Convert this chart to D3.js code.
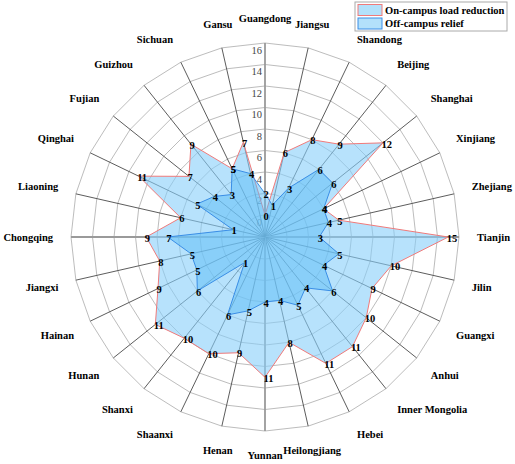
<!DOCTYPE html>
<html>
<head>
<meta charset="utf-8">
<script src="https://cdn.jsdelivr.net/npm/d3@7"></script>
<style>
  body { margin: 0; background: #fff; }
  svg { display: block; }
</style>
</head>
<body>
<svg id="radar" width="515" height="464"></svg>
<script>
///////// Data, clockwise from the top
var provinces = ["Guangdong", "Jiangsu", "Shandong", "Beijing", "Shanghai", "Xinjiang", "Zhejiang",
                 "Tianjin", "Jilin", "Guangxi", "Anhui", "Inner Mongolia", "Hebei", "Heilongjiang",
                 "Yunnan", "Henan", "Shaanxi", "Shanxi", "Hunan", "Hainan", "Jiangxi",
                 "Chongqing", "Liaoning", "Qinghai", "Fujian", "Guizhou", "Sichuan", "Gansu"]
var onCampus  = [0, 6, 8, 9, 12, 4, 5, 15, 10, 9, 10, 11, 11, 8, 11, 9, 10, 10, 11, 9, 8, 9, 6, 11, 7, 9, 5, 7]
var offCampus = [2, 1, 3, 6, 6, 4, 4, 3, 5, 4, 6, 4, 5, 4, 4, 5, 6, 1, 6, 5, 5, 7, 1, 5, 4, 3, 5, 4]
var seriesNames = ["On-campus load reduction", "Off-campus relief"]
var radialTicks = [0, 2, 4, 6, 8, 10, 12, 14, 16]

var FONT = "'Liberation Serif', 'Times New Roman', 'DejaVu Serif', serif"

var svg = d3.select("#radar").style("font-family", FONT)
var cx = 265, cy = 237
var g = svg.append("g").attr("transform", "translate(" + cx + "," + cy + ")")

// angle per province, radius per value (0 sits on a small inner ring, not the centre)
var aScale = d3.scaleBand().domain(provinces).range([0, 2 * Math.PI]).padding(0)
var rScale = d3.scaleLinear().domain([0, 16]).range([22, 194])

function px(name, v) { return rScale(v) * Math.sin(aScale(name)) }
function py(name, v) { return -rScale(v) * Math.cos(aScale(name)) }

var radial = d3.lineRadial()
    .angle(function(d) { return aScale(d.name) })
    .radius(function(d) { return rScale(d.value) })
    .curve(d3.curveLinearClosed)

///////// Polygon grid rings
g.selectAll(".ring")
  .data(radialTicks)
  .enter().append("path")
    .attr("class", "ring")
    .attr("d", function(t) { return radial(provinces.map(function(p) { return {name: p, value: t} })) })
    .attr("fill", "none")
    .attr("stroke", "#b4b4b4")
    .attr("stroke-width", 0.9)

///////// Spokes, the four main ones lighter and thicker
g.selectAll(".spoke")
  .data(provinces)
  .enter().append("line")
    .attr("class", "spoke")
    .attr("x1", 0).attr("y1", 0)
    .attr("x2", function(p) { return px(p, 16) })
    .attr("y2", function(p) { return py(p, 16) })
    .attr("stroke", function(p, i) { return i % 7 == 0 ? "#9a9a9a" : "#4a4a4a" })
    .attr("stroke-width", function(p, i) { return i % 7 == 0 ? 1.8 : 0.9 })

///////// Tick labels on the top axis
g.selectAll(".tick")
  .data(radialTicks)
  .enter().append("text")
    .attr("class", "tick")
    .attr("x", -3)
    .attr("y", function(t) { return -rScale(t) + 7 })
    .attr("dy", "0.35em")
    .attr("text-anchor", "end")
    .attr("fill", "#444")
    .style("font-family", FONT)
    .style("font-size", "10.5px")
    .text(function(t) { return t })

///////// The two series
var series = [
  {name: seriesNames[0], values: onCampus,  fill: "rgb(135,206,250)", opacity: 0.6, stroke: "#f07a7a"},
  {name: seriesNames[1], values: offCampus, fill: "rgb(91,188,245)",  opacity: 0.5, stroke: "#3a8ee6"}
]

series.forEach(function(s) {
    var pts = provinces.map(function(p, i) { return {name: p, value: s.values[i]} })
    g.append("path")
      .attr("d", radial(pts))
      .attr("fill", s.fill)
      .attr("fill-opacity", s.opacity)
      .attr("stroke", s.stroke)
      .attr("stroke-width", 1)
})

// value labels
series.forEach(function(s) {
    g.selectAll(null)
      .data(provinces)
      .enter().append("text")
        .attr("x", function(p, i) { return px(p, s.values[i]) - 1.5 })
        .attr("y", function(p, i) { return py(p, s.values[i]) + 1 })
        .attr("dy", "0.35em")
        .attr("fill", "#000")
        .style("font-family", FONT)
        .style("font-size", "10.5px")
        .style("font-weight", "bold")
        .text(function(p, i) { return s.values[i] })
})

///////// Province labels around the outside
var labelR = 212
g.selectAll(".cat")
  .data(provinces)
  .enter().append("text")
    .attr("class", "cat")
    .each(function(p) {
        var a = aScale(p)
        var s = Math.sin(a), c = Math.cos(a)
        var anchor = Math.abs(s) < 0.3 ? "middle" : (s > 0 ? "start" : "end")
        var off = -Math.sign(c) * 6.5 * Math.min(1, Math.abs(c) / 0.4)
        d3.select(this)
          .attr("x", labelR * s)
          .attr("y", -labelR * c + off)
          .attr("text-anchor", anchor)
    })
    .attr("dy", "0.35em")
    .style("font-family", FONT)
    .style("font-size", "10.5px")
    .style("font-weight", "bold")
    .text(function(p) { return p })

///////// Legend
var legend = svg.append("g").attr("transform", "translate(355,2)")
legend.append("rect")
  .attr("width", 152).attr("height", 29)
  .attr("fill", "#fff")
  .attr("stroke", "#aaa")
  .attr("stroke-width", 1)

var items = legend.selectAll(".item")
  .data(series)
  .enter().append("g")
    .attr("class", "item")
    .attr("transform", function(d, i) { return "translate(3," + (2.5 + i * 13.5) + ")" })

items.append("rect")
  .attr("width", 24).attr("height", 11)
  .attr("fill", "#b3e1fb")
  .attr("stroke", function(d) { return d.stroke })
  .attr("stroke-width", 1)

items.append("text")
  .attr("x", 27).attr("y", 5.5)
  .attr("dy", "0.35em")
  .style("font-family", FONT)
  .style("font-size", "10.5px")
  .style("font-weight", "bold")
  .text(function(d) { return d.name })
</script>
</body>
</html>
